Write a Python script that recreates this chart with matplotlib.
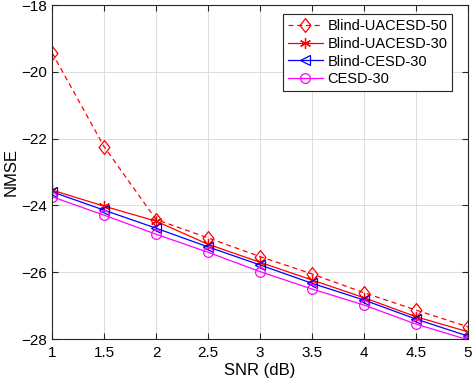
import numpy as np
import matplotlib.pyplot as plt
from matplotlib.path import Path

plt.rcParams['font.family'] = ['Liberation Sans', 'DejaVu Sans']

# SNR values (dB)
snr = [1, 1.5, 2, 2.5, 3, 3.5, 4, 4.5, 5]

# NMSE
blind_uacesd_50 = [-19.43, -22.24, -24.42, -24.97, -25.53, -26.05, -26.61, -27.13, -27.63]
blind_uacesd_30 = [-23.54, -24.02, -24.47, -25.16, -25.70, -26.23, -26.76, -27.33, -27.78]
blind_cesd_30 = [-23.59, -24.14, -24.68, -25.24, -25.78, -26.33, -26.83, -27.40, -27.91]
cesd_30 = [-23.74, -24.29, -24.86, -25.40, -25.98, -26.50, -26.98, -27.55, -28.02]

# matlab-like diamond (a bit narrower than tall)
diamond = Path([(0, 1), (0.78, 0), (0, -1), (-0.78, 0), (0, 1)],
               [Path.MOVETO, Path.LINETO, Path.LINETO, Path.LINETO, Path.CLOSEPOLY])

fig = plt.figure(figsize=(4.74, 3.92), dpi=100)
ax = fig.add_axes([0.110, 0.135, 0.877, 0.852])

ax.plot(snr, blind_uacesd_50, '--', color='#ff0000', marker=diamond, markersize=10,
        fillstyle='none', linewidth=0.9, markeredgewidth=0.9, dashes=(4, 3),
        label='Blind-UACESD-50')
ax.plot(snr, blind_uacesd_30, '-', color='#ff0000', marker=(6, 2, 0), markersize=8,
        linewidth=0.9, markeredgewidth=0.9, label='Blind-UACESD-30')
ax.plot(snr, blind_cesd_30, '-', color='#0000ff', marker='<', markersize=7,
        fillstyle='none', linewidth=0.9, markeredgewidth=0.9, label='Blind-CESD-30')
ax.plot(snr, cesd_30, '-', color='#ff00ff', marker='o', markersize=7,
        fillstyle='none', linewidth=0.9, markeredgewidth=0.9, label='CESD-30')

ax.set_xlim(1, 5)
ax.set_ylim(-28, -18)
ax.set_xticks(snr)
ax.set_xticklabels(['1', '1.5', '2', '2.5', '3', '3.5', '4', '4.5', '5'])
ax.set_yticks([-28, -26, -24, -22, -20, -18])
ax.grid(True, color='#dcdcdc', linewidth=0.7)
ax.set_axisbelow(True)
ax.tick_params(direction='in', top=True, right=True, labelsize=11,
               color='#262626', length=4)
ax.tick_params(axis='x', pad=5)
for s in ax.spines.values():
    s.set_color('#262626')
    s.set_linewidth(0.8)

ax.set_xlabel('SNR (dB)', fontsize=12, labelpad=2)
ax.set_ylabel('NMSE', fontsize=12, labelpad=2)

leg = ax.legend(loc='upper right', bbox_to_anchor=(0.963, 0.973), fontsize=10.5,
                fancybox=False, edgecolor='#262626', framealpha=1,
                handlelength=2.4, handletextpad=0.3, borderpad=0.35,
                labelspacing=0.25, borderaxespad=0)
leg.get_frame().set_linewidth(0.8)

fig.savefig('out.png', dpi=100)
